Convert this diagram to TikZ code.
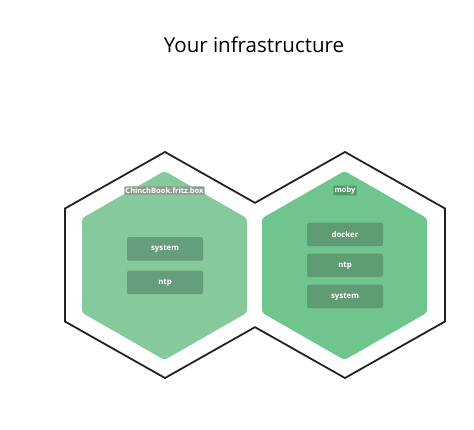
\documentclass[tikz,border=0pt]{standalone}
\usepackage{fontspec}
\setmainfont{Open Sans}
\definecolor{hexA}{HTML}{86C99C}
\definecolor{hexB}{HTML}{70C48E}
\definecolor{boxA}{HTML}{659E7A}
\definecolor{boxB}{HTML}{5F9C74}
\definecolor{lblA}{HTML}{8F9C93}
\definecolor{lblB}{HTML}{4F9A68}
\definecolor{outl}{HTML}{222222}
\begin{document}
\begin{tikzpicture}[x=1pt,y=-1pt,
  svc/.style={fill=#1,rounded corners=2pt,minimum width=76pt,minimum height=23.5pt,inner sep=0pt,text=white,font=\fontsize{7.8}{9}\selectfont\bfseries},
  hostlbl/.style={fill=#1,rounded corners=1pt,inner sep=1.2pt,text=white,font=\fontsize{7.5}{8}\selectfont\bfseries}]
\useasboundingbox (0,0) rectangle (474,430);
\node[font=\fontsize{20.5}{24}\selectfont, anchor=base] (title) at (254,53) {Your infrastructure};
% outer outline
\draw[outl, line width=1.8pt, line join=miter] (165,152) -- (255,202.85) -- (345,152) -- (445,208.5) -- (445,321.5) -- (345,378) -- (255,327.15) -- (165,378) -- (65,321.5) -- (65,208.5) -- cycle;
% green hexagons
\fill[hexA, rounded corners=3pt] (164.5,171) -- (247,218.25) -- (247,312.75) -- (164.5,360) -- (82,312.75) -- (82,218.25) -- cycle;
\fill[hexB, rounded corners=3pt] (344.5,171) -- (427,218.25) -- (427,312.75) -- (344.5,360) -- (262,312.75) -- (262,218.25) -- cycle;
% labels
\node[hostlbl=lblA] (hostA) at (164.5,190.5) {ChinchBook.fritz.box};
\node[hostlbl=lblB] (hostB) at (345,190.5) {moby};
% services
\node[svc=boxA] (a1) at (165,249) {system};
\node[svc=boxA] (a2) at (165,282.5) {ntp};
\node[svc=boxB] (b1) at (345,234.5) {docker};
\node[svc=boxB] (b2) at (345,265.5) {ntp};
\node[svc=boxB] (b3) at (345,296.5) {system};
\end{tikzpicture}
\end{document}
